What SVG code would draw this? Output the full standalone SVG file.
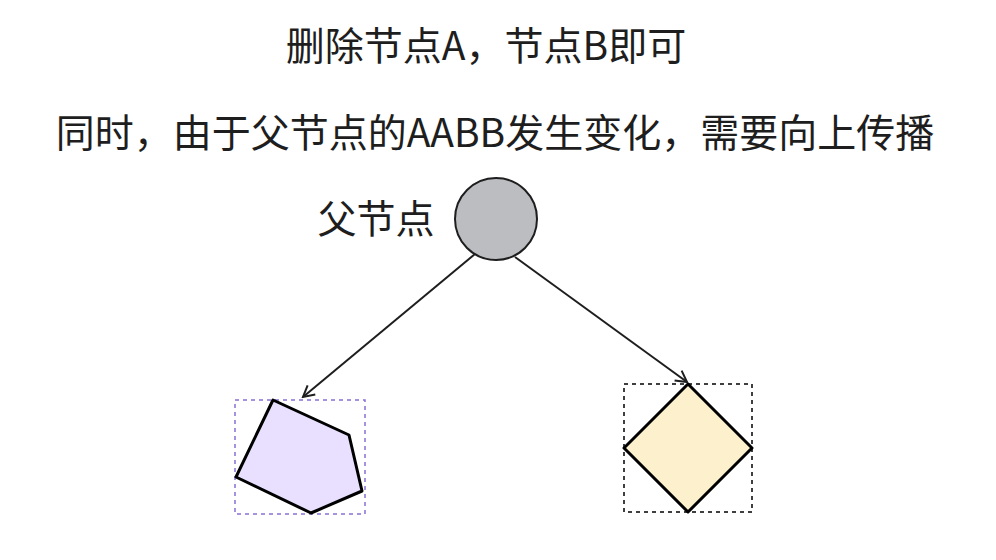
<svg xmlns="http://www.w3.org/2000/svg" width="996" height="560" viewBox="0 0 996 560">
<style>
text{font-family:"Noto Sans CJK SC",sans-serif;font-size:39px;fill:#1e1e1e;text-anchor:middle}
.c{stroke:#1e1e1e;stroke-width:2;fill:none}
</style>
<defs><marker id="a" markerWidth="14" markerHeight="14" refX="12" refY="7" orient="auto" markerUnits="userSpaceOnUse"><path d="M1,1 L12,7 L1,13" fill="none" stroke="#1e1e1e" stroke-width="2"/></marker></defs>
<rect width="996" height="560" fill="#fff"/>
<text x="486" y="60">删除节点A，节点B即可</text>
<text x="495" y="147">同时，由于父节点的AABB发生变化，需要向上传播</text>
<g id="parent"><circle cx="496" cy="219" r="41" fill="#bbbdc1" stroke="#1e1e1e" stroke-width="2"/><text x="376" y="233">父节点</text></g>
<g id="nodeA"><rect x="235" y="400" width="130" height="114" fill="none" stroke="#8a6fd6" stroke-width="1.5" stroke-dasharray="4 4"/><polygon points="273,400 349,435 362,491 311,513 236,477" fill="#e8e0fe" stroke="#000" stroke-width="3" stroke-linejoin="round"/></g>
<g id="nodeB"><rect x="624" y="384" width="128" height="128" fill="none" stroke="#000" stroke-width="1.5" stroke-dasharray="4 4"/><polygon points="688,384 752,448 688,512 624,448" fill="#fdf0cd" stroke="#000" stroke-width="3" stroke-linejoin="round"/></g>
<g id="connectors"><line class="c" x1="475" y1="254" x2="303" y2="397" marker-end="url(#a)"/><line class="c" x1="515" y1="257" x2="687" y2="382" marker-end="url(#a)"/></g>
</svg>
